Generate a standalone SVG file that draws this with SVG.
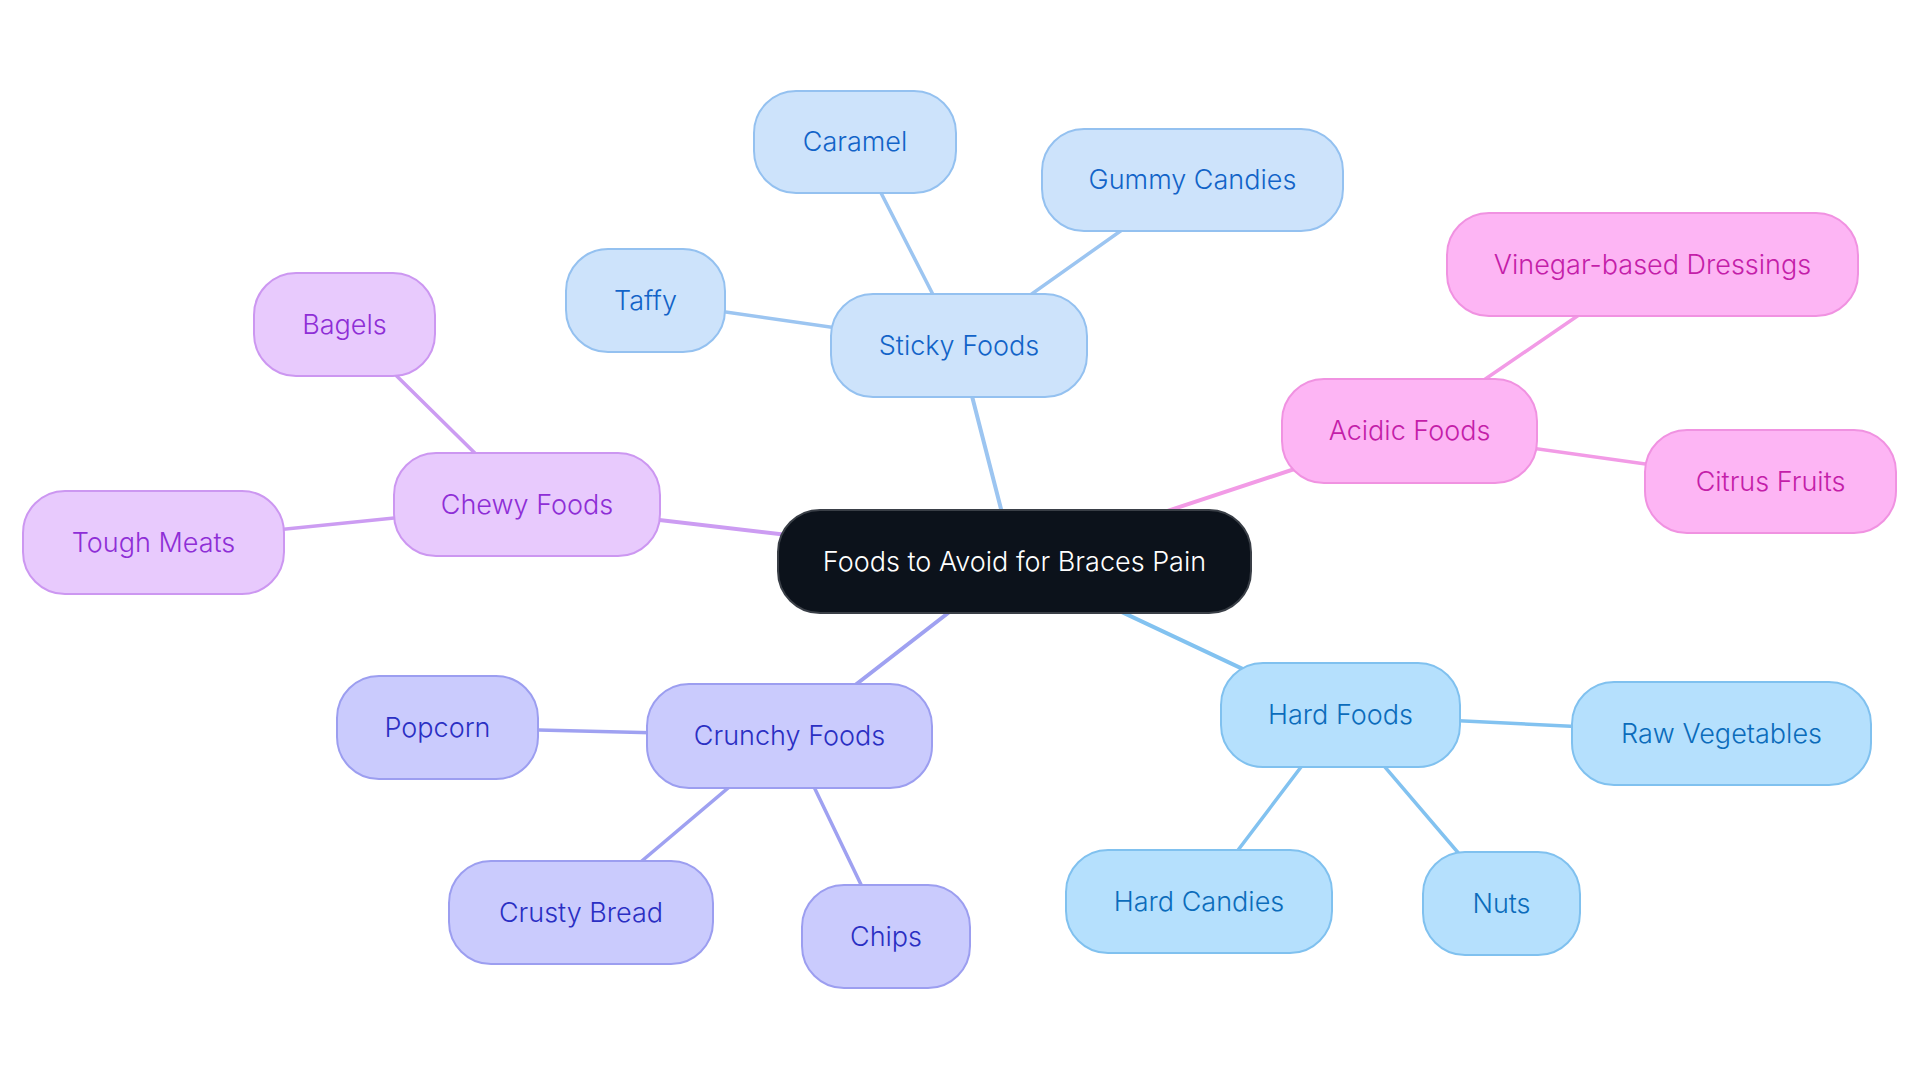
<svg xmlns="http://www.w3.org/2000/svg" width="1920" height="1083" viewBox="0 0 1920 1083">
<style>
text{font-family:Inter,"Noto Sans","Liberation Sans",sans-serif;font-size:27px;font-weight:350;text-anchor:middle}
.e{fill:none;stroke-linecap:round}
.r{stroke-width:4}
.l{stroke-width:3.5}
.sticky rect{fill:#cde3fb;stroke:#94c1f0;stroke-width:2}
.sticky text{fill:#1263c8}
.es{stroke:#9cc5f1}
.acid rect{fill:#fdb5f4;stroke:#f092e1;stroke-width:2}
.acid text{fill:#c41ea9}
.ea{stroke:#f29be6}
.chewy rect{fill:#e8cafd;stroke:#cc97f1;stroke-width:2}
.chewy text{fill:#8e2ed6}
.ec{stroke:#cc9cf2}
.crunch rect{fill:#cacbfd;stroke:#9c9ef0;stroke-width:2}
.crunch text{fill:#2a2fc3}
.ek{stroke:#9fa1f1}
.hard rect{fill:#b5e0fd;stroke:#80c1ef;stroke-width:2}
.hard text{fill:#0b6cbb}
.eh{stroke:#82c2f0}
.root rect{fill:#0c121b;stroke:#3a3f47;stroke-width:2}
.root text{fill:#ffffff}
</style>
<rect width="1920" height="1083" fill="#ffffff"/>
<g id="edges">
<line class="e r es" x1="1014.5" y1="561.5" x2="959" y2="345.5"/>
<line class="e r ea" x1="1014.5" y1="561.5" x2="1409.5" y2="431"/>
<line class="e r ec" x1="1014.5" y1="561.5" x2="527" y2="504.5"/>
<line class="e r ek" x1="1014.5" y1="561.5" x2="789.5" y2="736"/>
<line class="e r eh" x1="1014.5" y1="561.5" x2="1340.5" y2="715"/>
<line class="e l es" x1="959" y1="345.5" x2="855" y2="142"/>
<line class="e l es" x1="959" y1="345.5" x2="1192.5" y2="180"/>
<line class="e l es" x1="959" y1="345.5" x2="645.5" y2="300.5"/>
<line class="e l ea" x1="1409.5" y1="431" x2="1652.5" y2="264.5"/>
<line class="e l ea" x1="1409.5" y1="431" x2="1770.5" y2="481.5"/>
<line class="e l ec" x1="527" y1="504.5" x2="344.5" y2="324.5"/>
<line class="e l ec" x1="527" y1="504.5" x2="153.5" y2="542.5"/>
<line class="e l ek" x1="789.5" y1="736" x2="437.5" y2="727.5"/>
<line class="e l ek" x1="789.5" y1="736" x2="581" y2="912.5"/>
<line class="e l ek" x1="789.5" y1="736" x2="886" y2="936.5"/>
<line class="e l eh" x1="1340.5" y1="715" x2="1721.5" y2="733.5"/>
<line class="e l eh" x1="1340.5" y1="715" x2="1199" y2="901.5"/>
<line class="e l eh" x1="1340.5" y1="715" x2="1501.5" y2="903.5"/>
</g>
<g id="root" class="root"><rect x="778" y="510" width="473" height="103" rx="42"/><text x="1014.5" y="570.5">Foods to Avoid for Braces Pain</text></g>
<g id="sticky-foods" class="sticky"><rect x="831" y="294" width="256" height="103" rx="42"/><text x="959" y="354.5">Sticky Foods</text></g>
<g id="caramel" class="sticky"><rect x="754" y="91" width="202" height="102" rx="42"/><text x="855" y="151">Caramel</text></g>
<g id="gummy-candies" class="sticky"><rect x="1042" y="129" width="301" height="102" rx="42"/><text x="1192.5" y="189">Gummy Candies</text></g>
<g id="taffy" class="sticky"><rect x="566" y="249" width="159" height="103" rx="42"/><text x="645.5" y="309.5">Taffy</text></g>
<g id="acidic-foods" class="acid"><rect x="1282" y="379" width="255" height="104" rx="42"/><text x="1409.5" y="440">Acidic Foods</text></g>
<g id="vinegar" class="acid"><rect x="1447" y="213" width="411" height="103" rx="42"/><text x="1652.5" y="273.5">Vinegar-based Dressings</text></g>
<g id="citrus" class="acid"><rect x="1645" y="430" width="251" height="103" rx="42"/><text x="1770.5" y="490.5">Citrus Fruits</text></g>
<g id="chewy-foods" class="chewy"><rect x="394" y="453" width="266" height="103" rx="42"/><text x="527" y="513.5">Chewy Foods</text></g>
<g id="bagels" class="chewy"><rect x="254" y="273" width="181" height="103" rx="42"/><text x="344.5" y="333.5">Bagels</text></g>
<g id="tough-meats" class="chewy"><rect x="23" y="491" width="261" height="103" rx="42"/><text x="153.5" y="551.5">Tough Meats</text></g>
<g id="crunchy-foods" class="crunch"><rect x="647" y="684" width="285" height="104" rx="42"/><text x="789.5" y="745">Crunchy Foods</text></g>
<g id="popcorn" class="crunch"><rect x="337" y="676" width="201" height="103" rx="42"/><text x="437.5" y="736.5">Popcorn</text></g>
<g id="crusty-bread" class="crunch"><rect x="449" y="861" width="264" height="103" rx="42"/><text x="581" y="921.5">Crusty Bread</text></g>
<g id="chips" class="crunch"><rect x="802" y="885" width="168" height="103" rx="42"/><text x="886" y="945.5">Chips</text></g>
<g id="hard-foods" class="hard"><rect x="1221" y="663" width="239" height="104" rx="42"/><text x="1340.5" y="724">Hard Foods</text></g>
<g id="raw-vegetables" class="hard"><rect x="1572" y="682" width="299" height="103" rx="42"/><text x="1721.5" y="742.5">Raw Vegetables</text></g>
<g id="hard-candies" class="hard"><rect x="1066" y="850" width="266" height="103" rx="42"/><text x="1199" y="910.5">Hard Candies</text></g>
<g id="nuts" class="hard"><rect x="1423" y="852" width="157" height="103" rx="42"/><text x="1501.5" y="912.5">Nuts</text></g>
</svg>
